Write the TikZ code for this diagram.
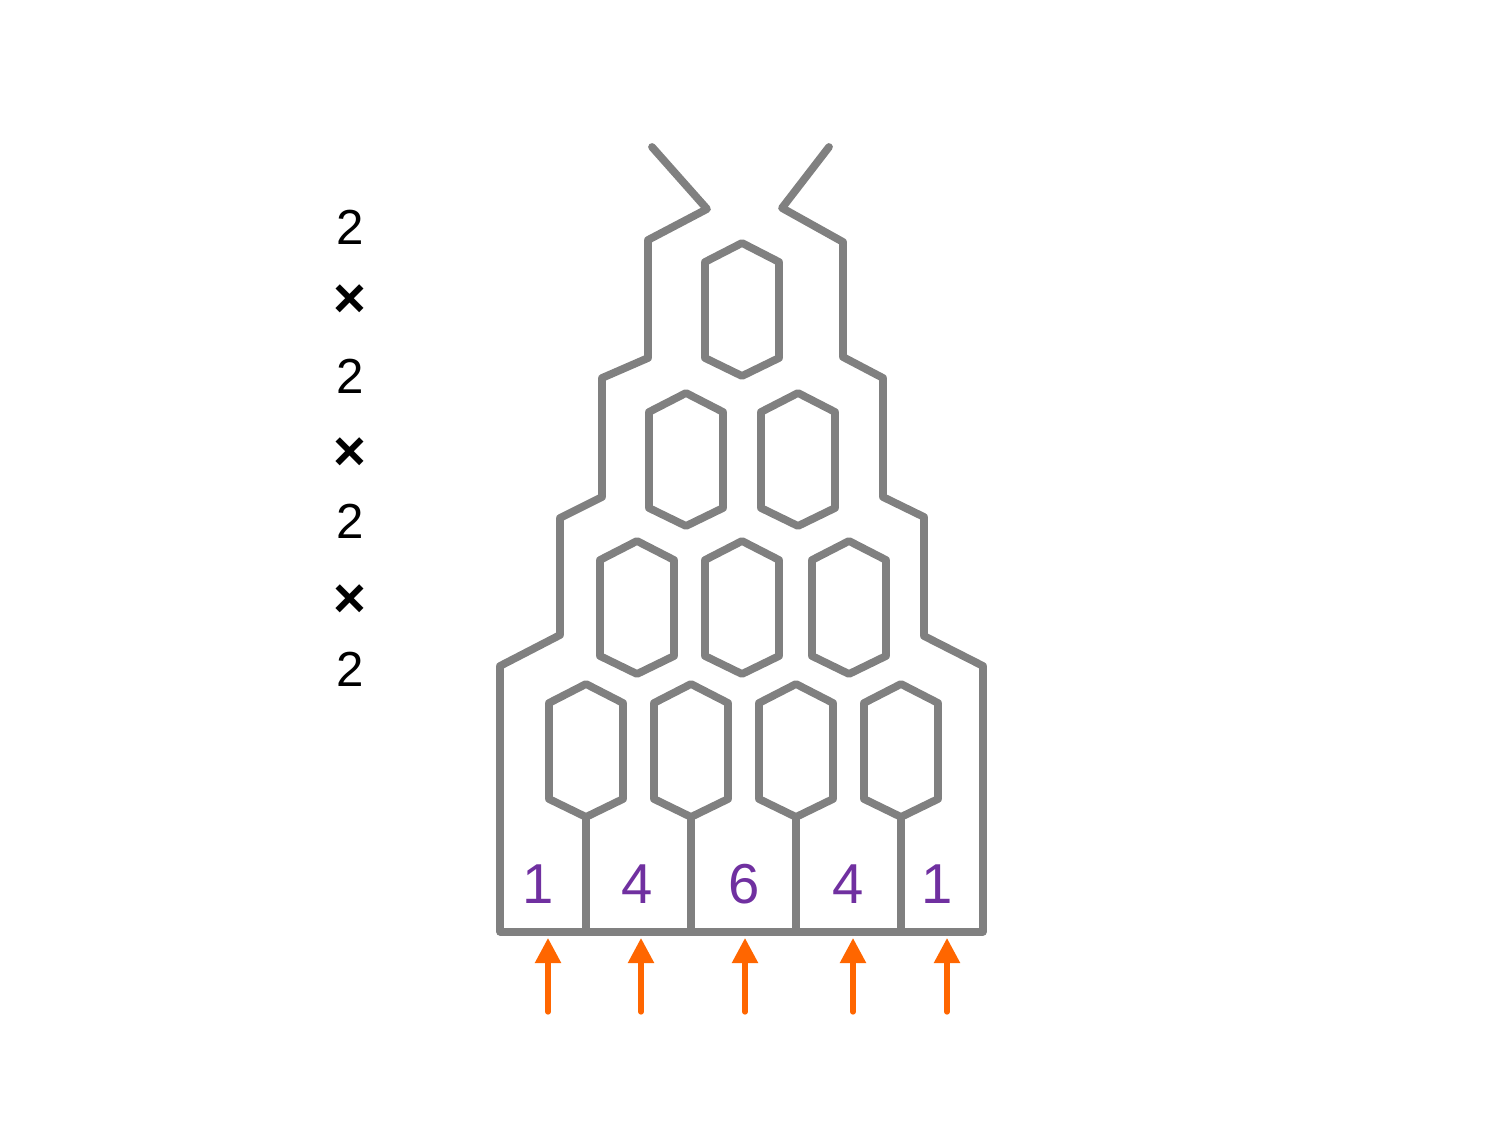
\documentclass[tikz,border=0pt]{standalone}
\usepackage{fontspec}
\setmainfont{Liberation Sans}
\usetikzlibrary{arrows.meta}
\definecolor{wallgray}{HTML}{808080}
\definecolor{countpurple}{HTML}{7030A0}
\definecolor{pushorange}{HTML}{FF6600}
\tikzset{
  wall/.style={wallgray,line width=2.2pt,line join=round,line cap=round},
  count/.style={countpurple,font=\fontsize{16}{18}\selectfont},
  factor/.style={font=\fontsize{14}{16}\selectfont},
  times/.style={font=\fontsize{16}{18}\selectfont\bfseries},
  push/.style={pushorange,line width=1.5pt,line cap=round,-{Triangle[width=0.25cm,length=0.25cm]}}
}

\begin{document}
\begin{tikzpicture}[x=0.01cm,y=-0.01cm]
\useasboundingbox (0,0) rectangle (1500,1125);
% outer wall
\draw[wall] (652,147) -- (707,209) -- (648,240) -- (648,358) -- (602,378) -- (602,497) -- (560,518) -- (560,635) -- (500,666) -- (500,932) -- (983,932) -- (983,666) -- (924,636) -- (924,517) -- (883,497) -- (883,378) -- (843,357) -- (843,242) -- (782,208) -- (829,147);
% pegs
\foreach \x/\y/\n in {742/243/a, 686/393/b, 798/393/c, 637/541/d, 742/541/e, 849/541/f, 586/684/g, 691/684/h, 796/684/i, 901/684/j}
  \draw[wall] (\x,\y) -- ++(37,19) -- ++(0,96) -- ++(-37,18) coordinate (\n) -- ++(-37,-18) -- ++(0,-96) -- cycle;
% bin walls
\coordinate (base) at (500,932);
\foreach \n in {g,h,i,j}
  \draw[wall] (\n) -- (\n |- base);
% counts
\node[count] (c1) at (538,884) {1};
\node[count] (c2) at (637,884) {4};
\node[count] (c3) at (744,884) {6};
\node[count] (c4) at (848,884) {4};
\node[count] (c5) at (937,884) {1};
% arrows
\foreach \x/\n in {548/1, 641/2, 745/3, 853/4, 947/5} {
  \coordinate (t\n) at (\x,1012);
  \coordinate (h\n) at (\x,938);
  \draw[push] (t\n) -- (h\n);
}
% product
\node[factor] (f1) at (350,227) {2};
\node[times] (x1) at (350,301) {×};
\node[factor] (f2) at (350,376) {2};
\node[times] (x2) at (350,454) {×};
\node[factor] (f3) at (350,521) {2};
\node[times] (x3) at (350,601) {×};
\node[factor] (f4) at (350,669) {2};
\end{tikzpicture}
\end{document}
